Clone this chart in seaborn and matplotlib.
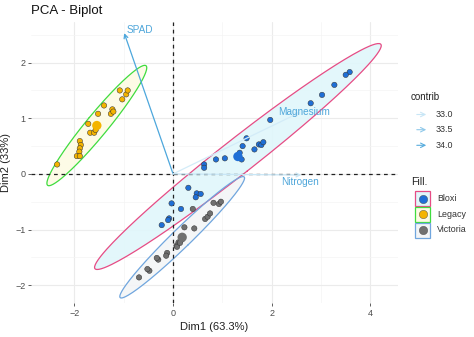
import numpy as np
import pandas as pd
import matplotlib
matplotlib.use("Agg")
import matplotlib.pyplot as plt
import seaborn as sns
from matplotlib.colors import LinearSegmentedColormap, Normalize

# individuals (Dim1, Dim2)
biloxi_x = [3.58, 3.50, 3.27, 3.02, 2.79, 1.97, 1.49, 1.41, 1.35, 1.65, 1.74, 1.79, 1.83,
            1.05, 0.87, 0.63, 0.63, 1.39, 0.31, 0.48, 0.56, 0.46, -0.03, 0.16, -0.08, -0.10, -0.23]
biloxi_y = [1.83, 1.78, 1.60, 1.42, 1.27, 0.97, 0.64, 0.50, 0.38, 0.44, 0.53, 0.52, 0.57,
            0.28, 0.26, 0.17, 0.11, 0.26, -0.25, -0.35, -0.36, -0.42, -0.53, -0.63, -0.80, -0.83, -0.92]
legacy_x = [-2.35, -1.72, -1.52, -1.40, -1.26, -1.23, -1.21, -1.08, -1.03, -0.95, -0.92,
            -1.68, -1.60, -1.57, -1.89, -1.87, -1.89, -1.90, -1.95, -1.89]
legacy_y = [0.17, 0.90, 1.08, 1.23, 1.08, 1.16, 1.12, 1.50, 1.34, 1.43, 1.50,
            0.74, 0.74, 0.79, 0.59, 0.52, 0.46, 0.40, 0.32, 0.32]
victoria_x = [0.82, 0.93, 0.97, 0.65, 0.70, 0.75, 0.43, 0.23, 0.40, 0.18, 0.11, 0.07, 0.08,
              0.14, -0.12, -0.14, -0.30, -0.33, -0.48, -0.52, -0.69]
victoria_y = [-0.52, -0.54, -0.50, -0.81, -0.77, -0.71, -0.98, -0.96, -0.63, -1.18, -1.23, -1.29, -1.31,
              -1.24, -1.42, -1.47, -1.54, -1.51, -1.74, -1.71, -1.86]

groups = ["Bloxi", "Legacy", "Victoria"]
point_colors = ["#1f6fd6", "#f4b400", "#707070"]
edge_colors = ["#e64c85", "#3fdc3f", "#70a6de"]
ellipse_fills = ["#e0f7fb", "#fdfbe4", "#f3f5f7"]

# variables
var_names = ["SPAD", "Magnesium", "Nitrogen"]
var_x = [-0.99, 2.58, 2.60]
var_y = [2.53, 1.11, -0.02]
var_contrib = [34.1, 32.9, 33.0]
contrib_breaks = [33.0, 33.5, 34.0]

df = pd.DataFrame({
    "Dim1": biloxi_x + legacy_x + victoria_x,
    "Dim2": biloxi_y + legacy_y + victoria_y,
    "group": ["Bloxi"] * len(biloxi_x) + ["Legacy"] * len(legacy_x) + ["Victoria"] * len(victoria_x),
})

sns.set_theme(style="white")
plt.rcParams["font.family"] = ["Liberation Sans", "DejaVu Sans"]

W, H = 474, 337
fig = plt.figure(figsize=(W / 100, H / 100), dpi=100)
px_l, px_r, px_t, px_b = 31, 398, 22, 303
ax = fig.add_axes([px_l / W, 1 - px_b / H, (px_r - px_l) / W, (px_b - px_t) / H])
ax.set_xlim(-2.88, 4.56)
ax.set_ylim(-2.32, 2.73)

# grid like theme_minimal
for v in [-2, 0, 2, 4]:
    ax.axvline(v, color="#ebebeb", lw=0.8, zorder=0)
for v in [-1, 1, 3]:
    ax.axvline(v, color="#f4f4f4", lw=0.5, zorder=0)
for v in [-2, -1, 0, 1, 2]:
    ax.axhline(v, color="#ebebeb", lw=0.8, zorder=0)
for v in [-1.5, -0.5, 0.5, 1.5, 2.5]:
    ax.axhline(v, color="#f4f4f4", lw=0.5, zorder=0)

# confidence ellipses
t = np.linspace(0, 2 * np.pi, 200)
for g, ec, fc in zip(groups, edge_colors, ellipse_fills):
    sub = df[df.group == g][["Dim1", "Dim2"]].to_numpy()
    mu = sub.mean(axis=0)
    cov = np.cov(sub.T)
    vals, vecs = np.linalg.eigh(cov)
    r = 2.55
    circ = np.vstack([np.cos(t), np.sin(t)])
    pts = (vecs @ np.diag(np.sqrt(vals) * r) @ circ).T + mu
    ax.fill(pts[:, 0], pts[:, 1], color=fc, alpha=0.9, zorder=1, lw=0)
    ax.plot(pts[:, 0], pts[:, 1], color=ec, lw=0.9, zorder=2)

ax.axhline(0, color="#222222", lw=0.9, ls=(0, (3, 3)), zorder=3)
ax.axvline(0, color="#222222", lw=0.9, ls=(0, (3, 3)), zorder=3)

sns.scatterplot(data=df, x="Dim1", y="Dim2", hue="group", hue_order=groups,
                palette=point_colors, s=15, edgecolor="#333333", linewidth=0.35,
                legend=False, ax=ax, zorder=4)
means = df.groupby("group")[["Dim1", "Dim2"]].mean().reindex(groups)
ax.scatter(means.Dim1, means.Dim2, s=45, c=point_colors, edgecolors="none", zorder=5)

# variable arrows coloured by contribution
cmap = LinearSegmentedColormap.from_list("contrib", ["#d3ecf8", "#4da7dc"])
norm = Normalize(32.9, 34.1)
for name, x, y, c in zip(var_names, var_x, var_y, var_contrib):
    col = cmap(norm(c))
    ax.annotate("", xy=(x, y), xytext=(0, 0),
                arrowprops=dict(arrowstyle="->", color=col, lw=0.9, shrinkA=0, shrinkB=0,
                                mutation_scale=7), zorder=6)
label_pos = {"SPAD": (-0.67, 2.58), "Magnesium": (2.65, 1.11), "Nitrogen": (2.58, -0.14)}
for name in var_names:
    lx, ly = label_pos[name]
    ax.text(lx, ly, name, color="#4ea6da", fontsize=7.2, ha="center", va="center", zorder=7)

for s in ax.spines.values():
    s.set_visible(False)
ax.set_xticks([-2, 0, 2, 4])
ax.set_yticks([-2, -1, 0, 1, 2])
ax.tick_params(axis="both", length=2.5, width=0.6, color="#444444", labelsize=6.5,
               labelcolor="#4d4d4d", pad=1.5, left=True, bottom=True)
ax.set_xlabel("Dim1 (63.3%)", fontsize=8, color="#222222", labelpad=3)
ax.set_ylabel("Dim2 (33%)", fontsize=8, color="#222222", labelpad=3)
ax.grid(False)

fig.text(31 / W, 1 - 11 / H, "PCA - Biplot", fontsize=9.5, color="#111111", ha="left", va="center")

# legend: contrib
def fx(p):
    return p / W
def fy(p):
    return 1 - p / H

fig.text(fx(411), fy(97), "contrib", fontsize=7, color="#222222", ha="left", va="center")
for i, b in enumerate(contrib_breaks):
    yy = [114.5, 129.7, 145.3][i]
    fig.patches.append(matplotlib.patches.FancyArrowPatch(
        (fx(414), fy(yy)), (fx(429), fy(yy)), transform=fig.transFigure, figure=fig,
        arrowstyle="->", mutation_scale=8, lw=0.8, color=cmap(norm(b))))
    fig.text(fx(436), fy(yy), f"{b:.1f}", fontsize=6.4, color="#333333", ha="left", va="center")

fig.text(fx(411), fy(182), "Fill.", fontsize=7.5, color="#222222", ha="left", va="center")
for i, (g, pc, ec, fc) in enumerate(zip(groups, point_colors, edge_colors, ellipse_fills)):
    yc = [198.5, 214.3, 230][i]
    fig.patches.append(matplotlib.patches.Rectangle(
        (fx(415), fy(yc + 7.5)), 15 / W, 15 / H, transform=fig.transFigure, figure=fig,
        facecolor=fc, edgecolor=ec, lw=0.9))
    fig.add_artist(plt.Line2D([fx(422.5)], [fy(yc)], transform=fig.transFigure, marker="o",
                              markersize=6, color=pc, markeredgecolor="#444444",
                              markeredgewidth=0.3, lw=0))
    fig.text(fx(437), fy(yc), g, fontsize=6.4, color="#333333", ha="left", va="center")

fig.savefig("out.png", dpi=100)
